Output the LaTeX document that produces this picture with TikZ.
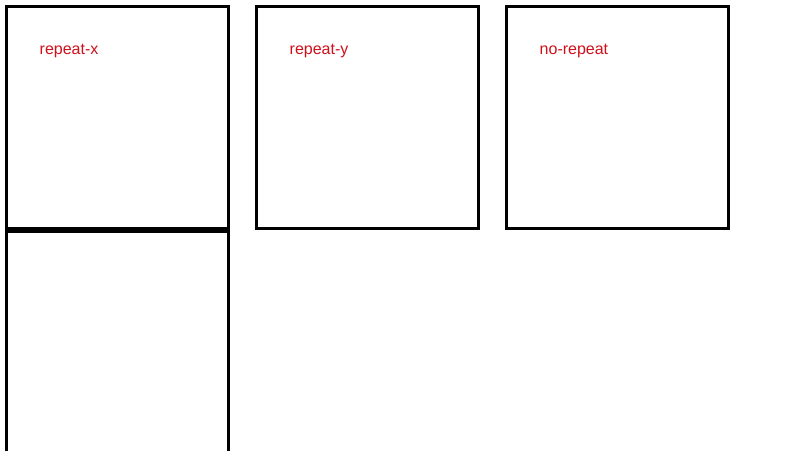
\documentclass[tikz,border=0pt]{standalone}
\usepackage{fontspec}
\setmainfont{Liberation Sans}
\definecolor{lbl}{HTML}{D0101A}
\begin{document}
\begin{tikzpicture}[x=1pt,y=-1pt,
  panel/.style={draw=black,line width=3pt,fill=white},
  caption/.style={anchor=base west,inner sep=0pt,text=lbl,font=\fontsize{16pt}{19pt}\selectfont}]
\useasboundingbox (0,0) rectangle (800,450);
\fill[white] (0,0) rectangle (800,450);
\begin{scope}
\clip (0,0) rectangle (800,450);
\draw[panel] (6.5,6.5) rectangle (228.5,228.5) coordinate (b1);
\draw[panel] (256.5,6.5) rectangle (478.5,228.5) coordinate (b2);
\draw[panel] (506.5,6.5) rectangle (728.5,228.5) coordinate (b3);
\draw[panel] (6.5,231.5) rectangle (228.5,453.5) coordinate (b4);
\end{scope}
\node[caption] (t1) at (39.5,54) {repeat-x};
\node[caption] (t2) at (289.5,54) {repeat-y};
\node[caption] (t3) at (539.5,54) {no-repeat};
\end{tikzpicture}
\end{document}
